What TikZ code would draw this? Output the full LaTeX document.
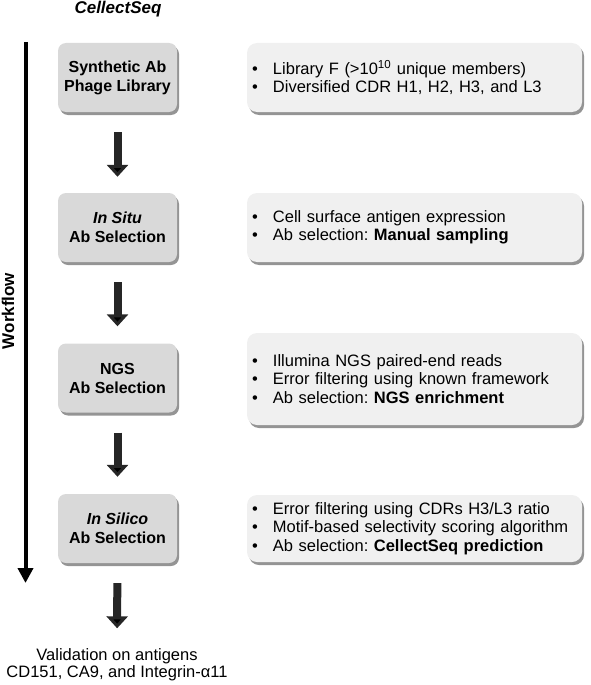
\documentclass[tikz,border=0pt]{standalone}
\usepackage{fontspec}
\setmainfont{Liberation Sans}
\usetikzlibrary{arrows.meta,shadows}

\newcommand{\bulletpt}{\makebox[21pt][l]{\textbullet}}
\frenchspacing

\begin{document}
\begin{tikzpicture}[x=1pt,y=-1pt,
  stage/.style={fill=black!15,rounded corners=8pt,minimum width=119pt,minimum height=69pt,align=center,
    font=\fontsize{16}{19}\selectfont\bfseries,
    drop shadow={shadow xshift=2pt,shadow yshift=-3pt,fill=black!60,opacity=0.7}},
  info/.style={fill=black!6,rounded corners=10pt,minimum width=335pt,text width=325pt,inner xsep=5pt,align=left,
    font=\fontsize{16.5}{18.5}\selectfont,
    drop shadow={shadow xshift=2pt,shadow yshift=-3pt,fill=black!60,opacity=0.7}},
  flow/.style={-{Triangle[width=21pt,length=12pt]},line width=8pt,draw=black!85}]
  \useasboundingbox (0,0) rectangle (590,685);

  \node[font=\fontsize{17}{20}\selectfont\bfseries\itshape] (title) at (118,9) {CellectSeq};
  \node[font=\fontsize{17}{20}\selectfont\bfseries,rotate=90] (wf) at (8,311) {Workflow};
  \coordinate (wtop) at (25.5,42);
  \coordinate (wbot) at (25.5,583);
  \draw[-{Triangle[width=15pt,length=15pt]},line width=4pt] (wtop) -- (wbot);

  % left column
  \node[stage] (synth) at (117.5,77.5) {Synthetic Ab\\Phage Library};
  \node[stage] (insitu) at (117.5,227.5) {\textit{In Situ}\\Ab Selection};
  \node[stage] (ngs) at (117.5,378) {NGS\\Ab Selection};
  \node[stage] (silico) at (117.5,528.5) {\textit{In Silico}\\Ab Selection};
  \node[align=center,font=\fontsize{16.5}{17}\selectfont] (valid) at (117,665)
    {Validation on antigens\\CD151, CA9, and Integrin-α11};

  % right column
  \node[info,minimum height=69pt] (synthinfo) at (414.5,77.5)
    {\bulletpt Library F (>10\textsuperscript{10} unique members)\\
     \bulletpt Diversified CDR H1, H2, H3, and L3};
  \node[info,minimum height=69pt] (insituinfo) at (414.5,227.5)
    {\bulletpt Cell surface antigen expression\\
     \bulletpt Ab selection: \textbf{Manual sampling}};
  \node[info,minimum height=92pt] (ngsinfo) at (414.5,379)
    {\bulletpt Illumina NGS paired-end reads\\
     \bulletpt Error filtering using known framework\\
     \bulletpt Ab selection: \textbf{NGS enrichment}};
  \node[info,minimum height=67pt] (silicoinfo) at (414.5,528.5)
    {\bulletpt Error filtering using CDRs H3/L3 ratio\\
     \bulletpt Motif-based selectivity scoring algorithm\\
     \bulletpt Ab selection: \textbf{CellectSeq prediction}};

  \path[flow] (synth) edge[shorten <=20pt,shorten >=16pt] (insitu);
  \path[flow] (insitu) edge[shorten <=20pt,shorten >=17pt] (ngs);
  \path[flow] (ngs) edge[shorten <=20pt,shorten >=17pt] (silico);
  \path[flow] (silico) edge[shorten <=20pt,shorten >=17pt] (valid);
\end{tikzpicture}
\end{document}
